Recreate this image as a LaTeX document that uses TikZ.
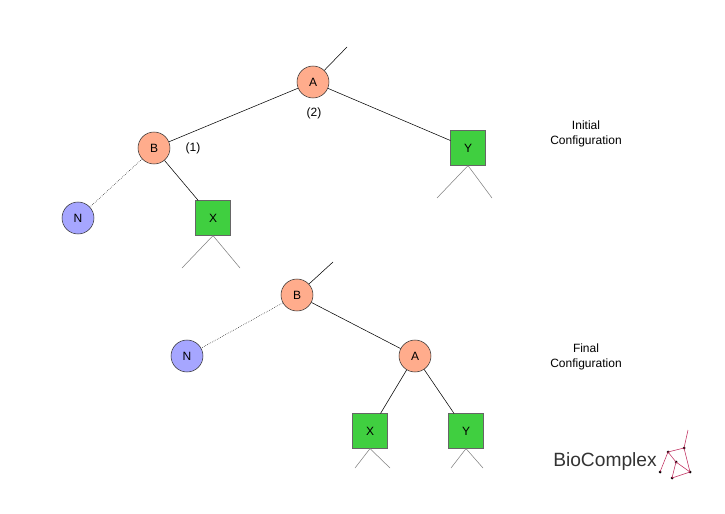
\documentclass[tikz,border=0pt]{standalone}
\usepackage{fontspec}
\setmainfont{Liberation Sans}
\usetikzlibrary{positioning}
\tikzstyle{Inner} = [circle,draw=black!80,fill=orange!55!red!45!white,minimum size=24pt,inner sep=0pt,font=\small]
\tikzstyle{Leaf} = [circle,draw=black!80,fill=blue!35,minimum size=24pt,inner sep=0pt,font=\small]
\tikzstyle{Sub} = [rectangle,draw=black!60,fill=green!75!black!75!white,minimum size=26pt,inner sep=0pt,font=\small]
\tikzstyle{Lbl} = [font=\small,align=center]
\definecolor{bcred}{RGB}{190,40,90}

\begin{document}
\begin{tikzpicture}[x=0.75pt,y=-0.75pt]
  \useasboundingbox (0,0) rectangle (725,514);

  % initial configuration
  \node [Inner] (a1) at (313,82) {A};
  \coordinate (a1up) at (347,47);
  \node [Lbl] (c2) at (314,113) {(2)};
  \node [Inner] (b1) at (154,148) {B};
  \node [Lbl,right=8pt of b1] (c1) {(1)};
  \node [Sub] (y1) at (468,148) {Y};
  \node [Leaf] (n1) at (78,218) {N};
  \node [Sub] (x1) at (213,218) {X};
  \node [Lbl] (t1) at (586,134) {Initial\\Configuration};

  \draw (a1) -- (a1up);
  \draw (a1) -- (b1);
  \draw (a1) -- (y1);
  \draw [densely dotted] (b1) -- (n1);
  \draw (b1) -- (x1);
  \coordinate (x1l) at (182,268); \coordinate (x1r) at (240,268);
  \coordinate (y1l) at (437,198); \coordinate (y1r) at (492,198);
  \draw [gray] (x1l) -- (x1.south) -- (x1r);
  \draw [gray] (y1l) -- (y1.south) -- (y1r);

  % final configuration
  \node [Inner] (b2) at (297,295) {B};
  \coordinate (b2up) at (333,262);
  \node [Leaf] (n2) at (187,356) {N};
  \node [Inner] (a2) at (415,356) {A};
  \node [Sub] (x2) at (370,431) {X};
  \node [Sub] (y2) at (466,431) {Y};
  \node [Lbl] (t2) at (586,357) {Final\\Configuration};

  \draw (b2) -- (b2up);
  \draw [densely dotted] (b2) -- (n2);
  \draw (b2) -- (a2);
  \draw (a2) -- (x2);
  \draw (a2) -- (y2);
  \coordinate (x2l) at (355,468); \coordinate (x2r) at (390,468);
  \coordinate (y2l) at (451,468); \coordinate (y2r) at (483,468);
  \draw [gray] (x2l) -- (x2.south) -- (x2r);
  \draw [gray] (y2l) -- (y2.south) -- (y2r);

  % logo
  \node [font=\Large,text=black!80] (logo) at (605,462) {BioComplex};
  \foreach \p/\q in {660/472,668/452,676/462,684/448,690/472,672/478}
    \fill (\p,\q) circle (1.5);
  \draw [bcred,thin] (660,472) -- (668,452) -- (684,448) -- (690,472) -- (672,478) -- (676,462) -- (668,452)
    (684,448) -- (688,430) (676,462) -- (690,472);
\end{tikzpicture}
\end{document}
